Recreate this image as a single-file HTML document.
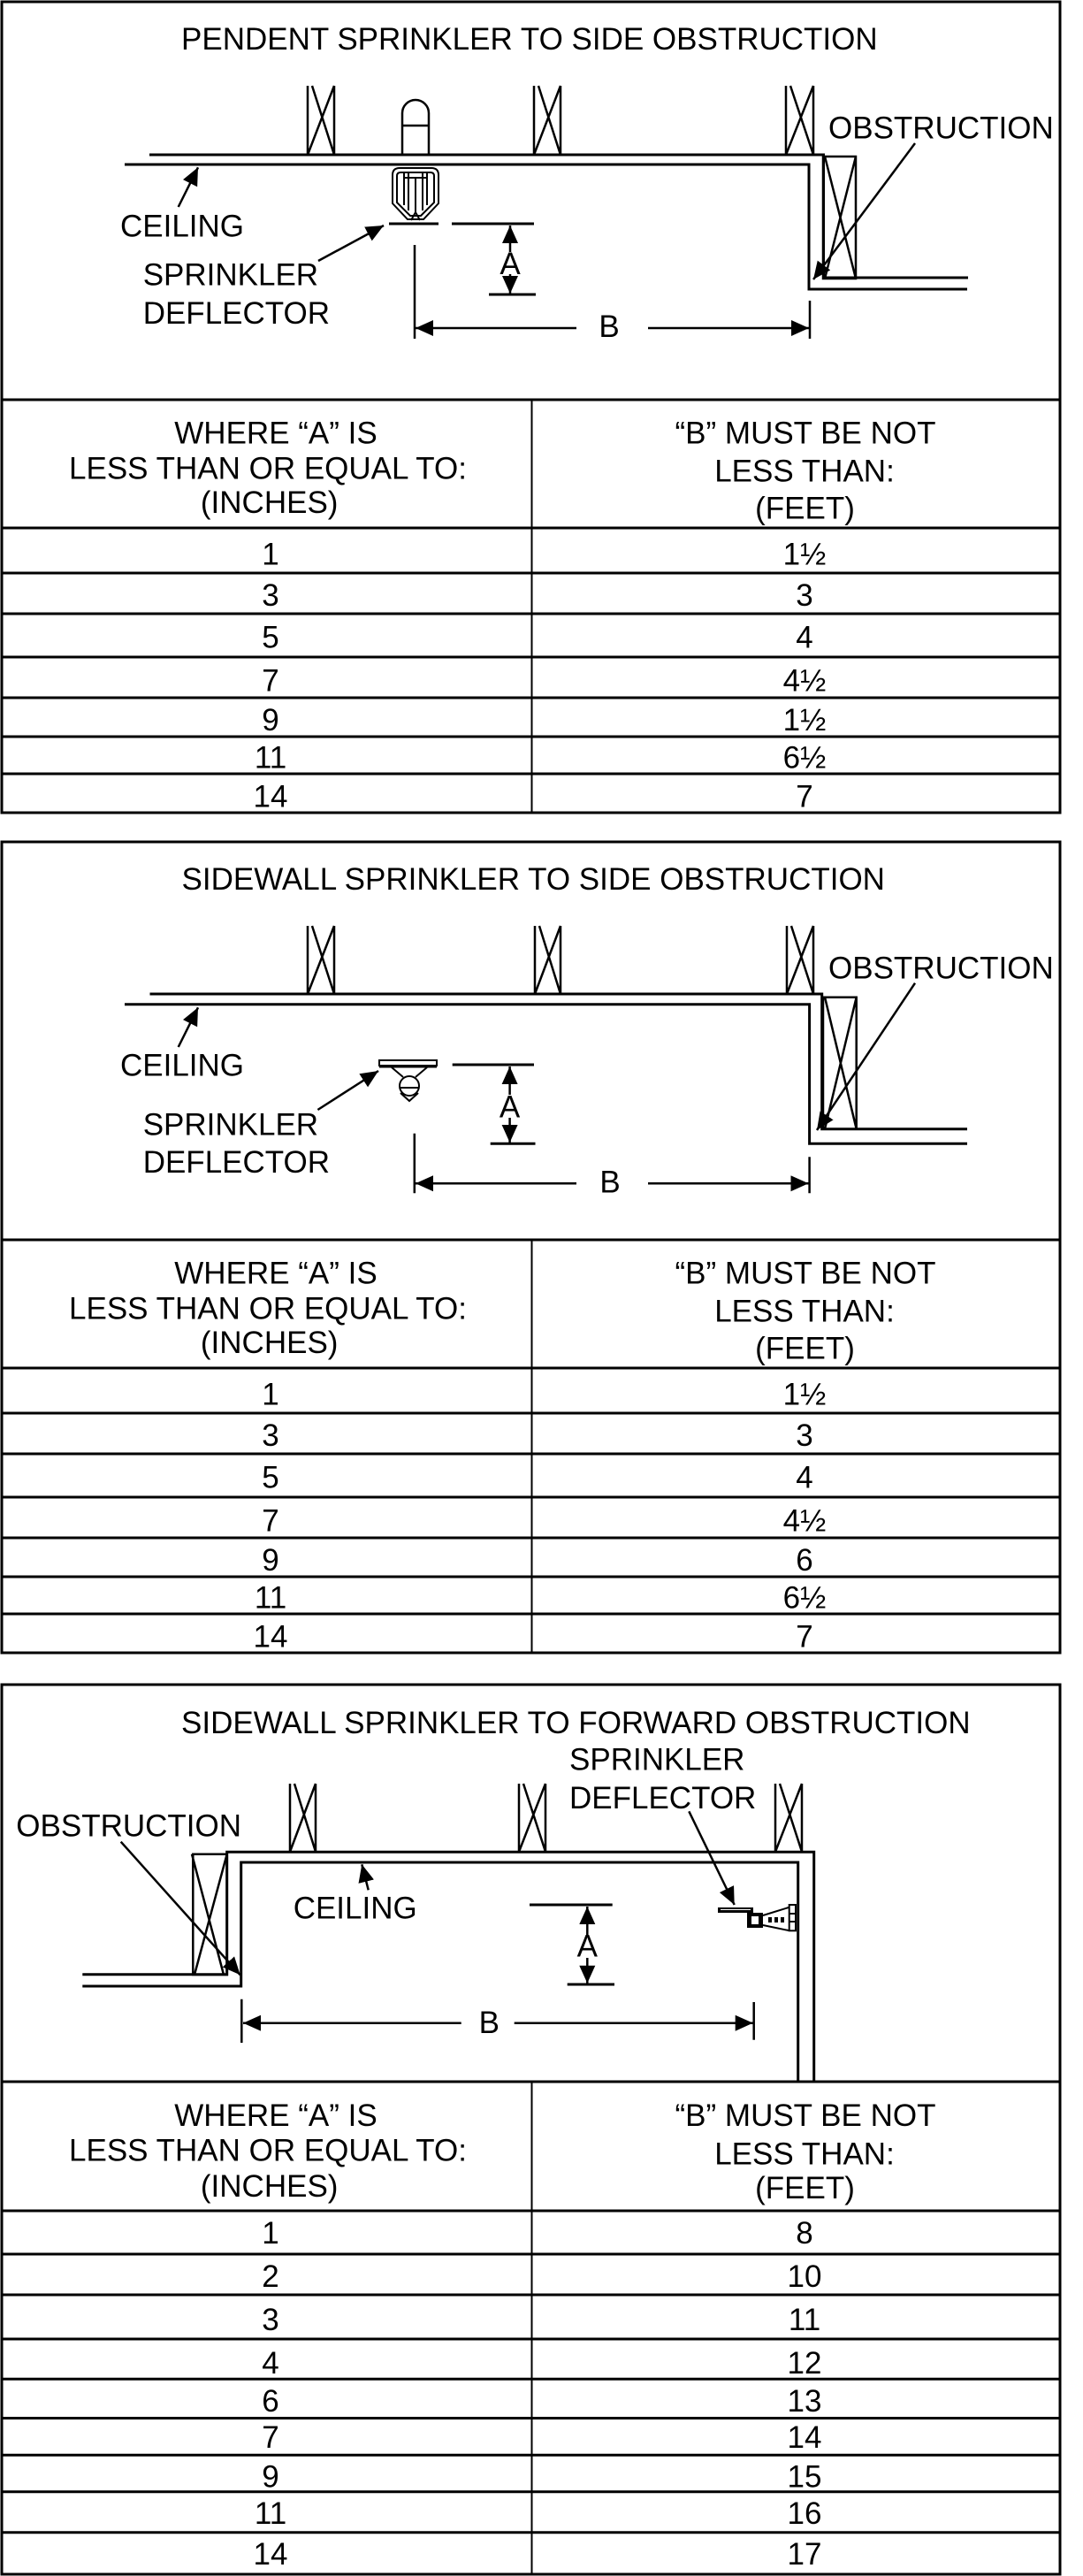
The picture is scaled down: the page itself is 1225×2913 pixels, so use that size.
<!DOCTYPE html>
<html>
<head>
<meta charset="utf-8">
<style>
html,body{margin:0;padding:0;background:#fff;}
svg{display:block;}
text{font-family:"Liberation Sans",Arial,sans-serif;font-size:35px;fill:#000;}
.c{text-anchor:middle;}
</style>
</head>
<body>
<svg width="1225" height="2913" viewBox="0 0 1225 2913" xmlns="http://www.w3.org/2000/svg">
<defs>
<marker id="a" markerWidth="20" markerHeight="20" refX="20" refY="9" orient="auto" markerUnits="userSpaceOnUse">
<path d="M0,0 L20,9 L0,18 Z" fill="#000"/>
</marker>
</defs>

<!-- ================= SECTION 1 ================= -->
<g fill="none" stroke="#000">
<rect x="2" y="2" width="1197" height="917" stroke-width="3"/>
<g stroke-width="3">
<path d="M2,452 H1199 M2,597 H1199 M2,648 H1199 M2,694 H1199 M2,743 H1199 M2,789 H1199 M2,833 H1199 M2,875 H1199"/>
</g>
<path d="M601.5,452 V919" stroke-width="2"/>

<g stroke-width="2.5">
<!-- joists -->
<path d="M348,97 V175 M378,97 V175 M353,97 L378,175 M378,97 L348,175"/>
<path d="M604,97 V175 M634,97 V175 M609,97 L634,175 M634,97 L604,175"/>
<path d="M889,97 V175 M920,97 V175 M894,97 L920,175 M920,97 L889,175"/>
<!-- ceiling / wall -->
<path d="M169,175 H931.5 V314 H1095" stroke-width="3"/>
<path d="M141,186 H915 V327 H1094" stroke-width="3"/>
<!-- obstruction -->
<path d="M931,177 H968 V315 H931 Z M933,177 L968,315 M968,177 L933,315"/>
<!-- pipe dome -->
<path d="M455,175 V128 A15,15 0 0 1 485,128 V175 M455,142 H485"/>
</g>
<!-- pendent sprinkler body -->
<g stroke-width="2">
<path d="M444,230 V198 Q444,190 452,190 H488 Q496,190 496,198 V230 L479,248 H461 Z"/>
<path d="M449,229 V199 Q449,195 453,195 H487 Q491,195 491,199 V229 L476,244 H464 Z"/>
<path d="M457,195 V232 M462,195 V238 M470,200 V240 M478,195 V238 M483,195 V232 M457,201 H483"/>
<path d="M465,249 L470,240 L475,249"/>
</g>
<g stroke-width="3">
<path d="M440,253 H496 M511,253 H604 M553,333 H606"/>
</g>
<g stroke-width="2.5">
<path d="M469,277 V383 M916,340 V383"/>
<path d="M577,285 V255" marker-end="url(#a)"/>
<path d="M577,310 V332" marker-end="url(#a)"/>
<path d="M652,371 H470" marker-end="url(#a)"/>
<path d="M733,371 H915" marker-end="url(#a)"/>
<path d="M201.7,234 L224,189.3" marker-end="url(#a)"/>
<path d="M360,295 L434,255" marker-end="url(#a)"/>
<path d="M1035,162 L920,316" marker-end="url(#a)"/>
</g>
</g>
<text x="205" y="56">PENDENT SPRINKLER TO SIDE OBSTRUCTION</text>
<text x="937" y="156.7">OBSTRUCTION</text>
<text x="136" y="267.3">CEILING</text>
<text x="161.7" y="322.7">SPRINKLER</text>
<text x="161.7" y="366">DEFLECTOR</text>
<text class="c" x="577" y="310">A</text>
<text class="c" x="689" y="381">B</text>

<text class="c" x="312" y="501.7">WHERE “A” IS</text>
<text class="c" x="303" y="541.7">LESS THAN OR EQUAL TO:</text>
<text class="c" x="304.7" y="580">(INCHES)</text>
<text class="c" x="911" y="501.7">“B” MUST BE NOT</text>
<text class="c" x="910" y="544.3">LESS THAN:</text>
<text class="c" x="910.5" y="586.7">(FEET)</text>

<text class="c" x="306" y="638.3">1</text><text class="c" x="910" y="638.3">1½</text>
<text class="c" x="306" y="685">3</text><text class="c" x="910" y="685">3</text>
<text class="c" x="306" y="732.7">5</text><text class="c" x="910" y="732.7">4</text>
<text class="c" x="306" y="781.7">7</text><text class="c" x="910" y="781.7">4½</text>
<text class="c" x="306" y="826">9</text><text class="c" x="910" y="826">1½</text>
<text class="c" x="306" y="868.3">11</text><text class="c" x="910" y="868.3">6½</text>
<text class="c" x="306" y="912.7">14</text><text class="c" x="910" y="912.7">7</text>

<!-- ================= SECTION 2 ================= -->
<g fill="none" stroke="#000">
<rect x="2" y="952" width="1197" height="917" stroke-width="3"/>
<g stroke-width="3">
<path d="M2,1402 H1199 M2,1547 H1199 M2,1598 H1199 M2,1644 H1199 M2,1693 H1199 M2,1739 H1199 M2,1783 H1199 M2,1825 H1199"/>
</g>
<path d="M601.5,1402 V1869" stroke-width="2"/>

<g stroke-width="2.5">
<path d="M348,1047 V1124 M378,1047 V1124 M353,1047 L378,1124 M378,1047 L348,1124"/>
<path d="M605,1047 V1124 M634,1047 V1124 M610,1047 L634,1124 M634,1047 L605,1124"/>
<path d="M890,1047 V1124 M920,1047 V1124 M895,1047 L920,1124 M920,1047 L890,1124"/>
<path d="M169.5,1124 H929.7 V1276.7 H1094" stroke-width="3"/>
<path d="M141,1135.7 H915.6 V1293.3 H1094" stroke-width="3"/>
<path d="M931,1127.7 H968.7 V1276.7 H931 Z M933,1127.7 L968.7,1276.7 M968.7,1127.7 L933,1276.7"/>
</g>
<!-- sidewall sprinkler -->
<g stroke-width="2">
<rect x="429" y="1199" width="65" height="6"/>
<path d="M429,1206 H494" stroke-width="3"/>
<path d="M443,1207 L456,1218 M483,1207 L470,1218"/>
<circle cx="463" cy="1228" r="11"/>
<path d="M452,1230 H474"/>
<path d="M453,1236 L463,1245 L473,1236"/>
</g>
<g stroke-width="3">
<path d="M511.7,1204 H604 M554.7,1293.3 H605.5"/>
</g>
<g stroke-width="2.5">
<path d="M468.8,1281.7 V1349.3 M915.6,1308.3 V1349.3"/>
<path d="M576.6,1238 V1206" marker-end="url(#a)"/>
<path d="M576.6,1264 V1292" marker-end="url(#a)"/>
<path d="M652,1338.3 H470" marker-end="url(#a)"/>
<path d="M733,1338.3 H914.5" marker-end="url(#a)"/>
<path d="M201.7,1184 L224,1139.3" marker-end="url(#a)"/>
<path d="M359.4,1255 L428,1211" marker-end="url(#a)"/>
<path d="M1035,1111.7 L924,1278" marker-end="url(#a)"/>
</g>
</g>
<text x="205.5" y="1006">SIDEWALL SPRINKLER TO SIDE OBSTRUCTION</text>
<text x="937" y="1106.7">OBSTRUCTION</text>
<text x="136" y="1216.7">CEILING</text>
<text x="161.7" y="1283.3">SPRINKLER</text>
<text x="161.7" y="1326">DEFLECTOR</text>
<text class="c" x="576.6" y="1263.3">A</text>
<text class="c" x="690" y="1348.3">B</text>

<text class="c" x="312" y="1451.7">WHERE “A” IS</text>
<text class="c" x="303" y="1491.7">LESS THAN OR EQUAL TO:</text>
<text class="c" x="304.7" y="1530">(INCHES)</text>
<text class="c" x="911" y="1451.7">“B” MUST BE NOT</text>
<text class="c" x="910" y="1494.3">LESS THAN:</text>
<text class="c" x="910.5" y="1536.7">(FEET)</text>

<text class="c" x="306" y="1588.3">1</text><text class="c" x="910" y="1588.3">1½</text>
<text class="c" x="306" y="1635">3</text><text class="c" x="910" y="1635">3</text>
<text class="c" x="306" y="1682.7">5</text><text class="c" x="910" y="1682.7">4</text>
<text class="c" x="306" y="1731.7">7</text><text class="c" x="910" y="1731.7">4½</text>
<text class="c" x="306" y="1776">9</text><text class="c" x="910" y="1776">6</text>
<text class="c" x="306" y="1818.3">11</text><text class="c" x="910" y="1818.3">6½</text>
<text class="c" x="306" y="1862.7">14</text><text class="c" x="910" y="1862.7">7</text>

<!-- ================= SECTION 3 ================= -->
<g fill="none" stroke="#000">
<rect x="2" y="1905" width="1197" height="1006" stroke-width="3"/>
<g stroke-width="3">
<path d="M2,2354 H1199 M2,2500 H1199 M2,2549 H1199 M2,2595 H1199 M2,2645 H1199 M2,2690.3 H1199 M2,2734.5 H1199 M2,2776.2 H1199 M2,2817.8 H1199 M2,2863.8 H1199"/>
</g>
<path d="M601.5,2354 V2911" stroke-width="2"/>

<g stroke-width="2.5">
<path d="M328,2017 V2094 M357,2017 V2094 M333,2017 L357,2094 M357,2017 L328,2094"/>
<path d="M587,2017 V2094 M617,2017 V2094 M592,2017 L617,2094 M617,2017 L587,2094"/>
<path d="M877,2017 V2094 M907,2017 V2094 M882,2017 L907,2094 M907,2017 L877,2094"/>
<path d="M93.3,2232.7 H256.7 V2094.3 H920.7 V2354" stroke-width="3"/>
<path d="M93.3,2246 H272.7 V2106 H902.7 V2354" stroke-width="3"/>
<path d="M218.3,2096.7 H256.7 V2233 H218.3 Z M217,2096.7 L253,2233 M256.7,2096.7 L220,2233"/>
</g>
<!-- forward sidewall sprinkler -->
<rect x="812" y="2157" width="40" height="6" fill="#000" stroke="none"/>
<path d="M815,2159.5 H849" stroke="#fff" stroke-width="1"/>
<rect x="845" y="2163" width="18" height="17" fill="#000" stroke="none"/>
<rect x="850" y="2167" width="8" height="9" fill="#fff" stroke="none"/>
<path d="M863,2166 L892,2157 M863,2177 L892,2183" stroke-width="2"/>
<rect x="869" y="2168" width="4" height="6" fill="#000" stroke="none"/>
<rect x="876" y="2168" width="4" height="6" fill="#000" stroke="none"/>
<rect x="883" y="2168" width="4" height="6" fill="#000" stroke="none"/>
<rect x="892.7" y="2154" width="7.3" height="29.3" fill="#fff" stroke-width="2"/>
<path d="M892.7,2164 H900 M892.7,2173 H900" stroke-width="2"/>

<g stroke-width="3">
<path d="M599,2154 H692.7 M641.7,2244 H695"/>
</g>
<g stroke-width="2.5">
<path d="M273.3,2260.7 V2310 M852.7,2264 V2306.7"/>
<path d="M664.3,2188 V2156" marker-end="url(#a)"/>
<path d="M664.3,2214 V2242.7" marker-end="url(#a)"/>
<path d="M521.7,2287.7 H275" marker-end="url(#a)"/>
<path d="M581.7,2287.7 H851.7" marker-end="url(#a)"/>
<path d="M136.7,2082.7 L271.7,2233.3" marker-end="url(#a)"/>
<path d="M416.7,2137.3 L409.3,2108.3" marker-end="url(#a)"/>
<path d="M779.3,2048.3 L830.7,2154" marker-end="url(#a)"/>
</g>
</g>
<text x="205" y="1960">SIDEWALL SPRINKLER TO FORWARD OBSTRUCTION</text>
<text x="644" y="2001.7">SPRINKLER</text>
<text x="644" y="2045">DEFLECTOR</text>
<text x="18.3" y="2076.7">OBSTRUCTION</text>
<text x="331.7" y="2169.3">CEILING</text>
<text class="c" x="664.3" y="2212.7">A</text>
<text class="c" x="553.3" y="2299">B</text>

<text class="c" x="312" y="2404">WHERE “A” IS</text>
<text class="c" x="303" y="2443.6">LESS THAN OR EQUAL TO:</text>
<text class="c" x="304.7" y="2484">(INCHES)</text>
<text class="c" x="911" y="2404">“B” MUST BE NOT</text>
<text class="c" x="910" y="2447.5">LESS THAN:</text>
<text class="c" x="910.5" y="2486">(FEET)</text>

<text class="c" x="306" y="2537">1</text><text class="c" x="910" y="2537">8</text>
<text class="c" x="306" y="2586">2</text><text class="c" x="910" y="2586">10</text>
<text class="c" x="306" y="2635">3</text><text class="c" x="910" y="2635">11</text>
<text class="c" x="306" y="2683.8">4</text><text class="c" x="910" y="2683.8">12</text>
<text class="c" x="306" y="2727.2">6</text><text class="c" x="910" y="2727.2">13</text>
<text class="c" x="306" y="2768.2">7</text><text class="c" x="910" y="2768.2">14</text>
<text class="c" x="306" y="2812.4">9</text><text class="c" x="910" y="2812.4">15</text>
<text class="c" x="306" y="2854">11</text><text class="c" x="910" y="2854">16</text>
<text class="c" x="306" y="2900">14</text><text class="c" x="910" y="2900">17</text>
</svg>
</body>
</html>
